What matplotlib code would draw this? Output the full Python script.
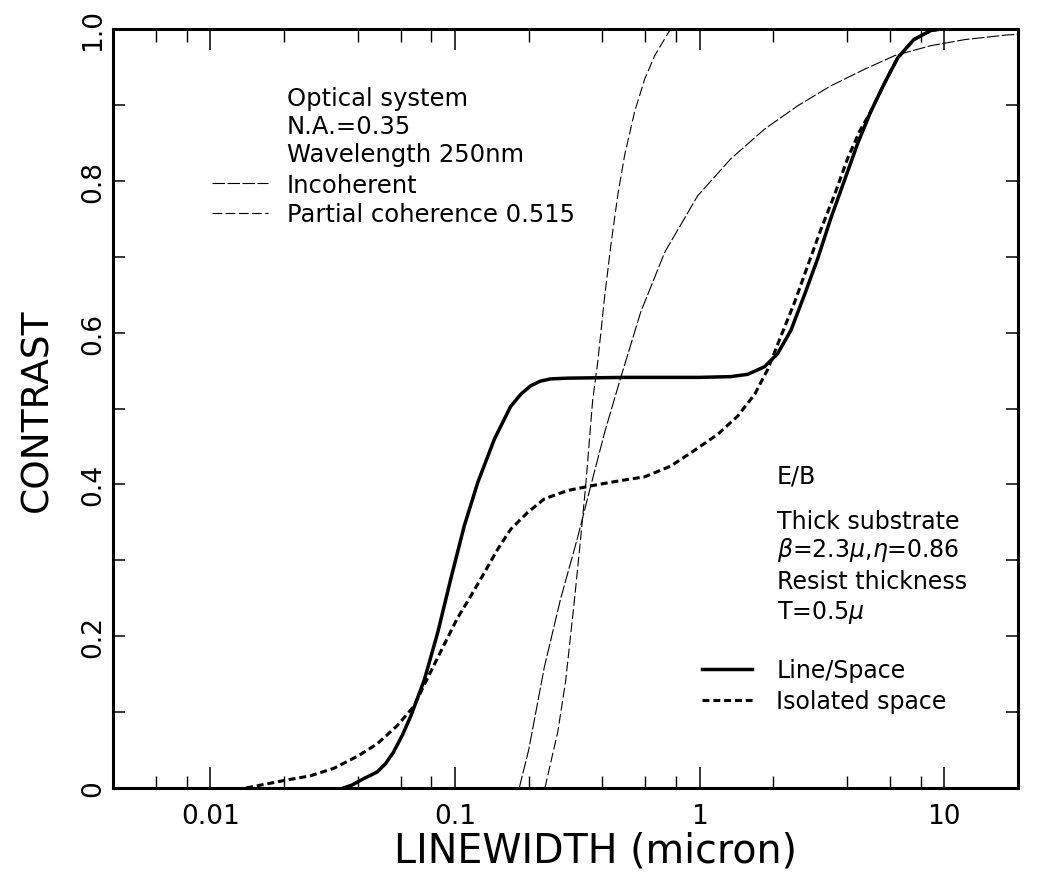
import matplotlib
matplotlib.use("Agg")
import matplotlib.pyplot as plt
from matplotlib.ticker import FixedLocator, NullFormatter, FixedFormatter

plt.rcParams['font.family'] = ['DejaVu Sans']
plt.rcParams['lines.scale_dashes'] = False
plt.rcParams['mathtext.fontset'] = 'dejavusans'

# ---------------- data ----------------
incoh_x = [0.183, 0.20, 0.232, 0.27, 0.317, 0.36, 0.41, 0.476, 0.574, 0.72,
           0.98, 1.34, 1.84, 2.52, 3.43, 4.72, 6.27, 8.8, 12.1, 17.8, 20.0]
incoh_y = [0.0, 0.05, 0.16, 0.249, 0.33, 0.40, 0.47, 0.541, 0.627, 0.706,
           0.78, 0.829, 0.868, 0.899, 0.925, 0.947, 0.965, 0.978, 0.986, 0.992, 0.993]

partial_x = [0.233, 0.263, 0.283, 0.308, 0.326, 0.343, 0.365, 0.383, 0.409, 0.433,
             0.462, 0.493, 0.542, 0.596, 0.655, 0.76]
partial_y = [0.0, 0.074, 0.14, 0.249, 0.328, 0.403, 0.51, 0.561, 0.648, 0.714,
             0.78, 0.833, 0.891, 0.934, 0.965, 1.0]

ls_x = [0.035, 0.038, 0.041, 0.044, 0.048, 0.052, 0.056, 0.061, 0.066, 0.075, 0.085,
        0.096, 0.109, 0.124, 0.145, 0.169, 0.186, 0.204, 0.223, 0.246, 0.289, 0.5,
        1.0, 1.34, 1.57, 1.84, 2.08, 2.36, 2.69, 3.04, 3.43, 3.92, 4.42, 5.0, 5.7,
        6.45, 7.5, 8.8, 9.7, 20.0]
ls_y = [0.0, 0.004, 0.01, 0.015, 0.021, 0.032, 0.047, 0.07, 0.095, 0.143, 0.205,
        0.275, 0.345, 0.403, 0.46, 0.503, 0.519, 0.53, 0.536, 0.539, 0.54, 0.541,
        0.541, 0.542, 0.545, 0.555, 0.572, 0.603, 0.651, 0.698, 0.75, 0.802, 0.849, 0.891, 0.929,
        0.962, 0.986, 0.998, 1.0, 1.0]

iso_x = [0.014, 0.0201, 0.0256, 0.032, 0.04, 0.048, 0.058, 0.068, 0.077, 0.09, 0.102,
         0.116, 0.132, 0.149, 0.169, 0.198, 0.232, 0.289, 0.372, 0.475, 0.596, 0.76,
         0.954, 1.185, 1.43, 1.68, 1.9, 2.14, 2.45, 2.77, 3.13, 3.57, 4.03, 4.5, 5.0,
         5.7, 6.45, 7.5, 8.8, 9.7, 20.0]
iso_y = [0.0, 0.01, 0.016, 0.026, 0.042, 0.058, 0.082, 0.108, 0.144, 0.188, 0.223,
         0.253, 0.284, 0.314, 0.341, 0.363, 0.381, 0.392, 0.399, 0.405, 0.41, 0.424,
         0.445, 0.466, 0.49, 0.519, 0.552, 0.594, 0.641, 0.689, 0.736, 0.783, 0.83, 0.865, 0.891,
         0.929, 0.962, 0.986, 0.998, 1.0, 1.0]

x_major = [0.01, 0.1, 1, 10]
x_major_labels = ["0.01", "0.1", "1", "10"]
x_minor = [0.006, 0.008, 0.02, 0.04, 0.06, 0.08, 0.2, 0.4, 0.6, 0.8, 2, 4, 6, 8]
y_major = [0, 0.2, 0.4, 0.6, 0.8, 1.0]
y_major_labels = ["0", "0.2", "0.4", "0.6", "0.8", "1.0"]
y_minor = [0.1, 0.3, 0.5, 0.7, 0.9]

# ---------------- figure ----------------
W, H = 1039, 887
fig = plt.figure(figsize=(W / 100, H / 100), dpi=100)
L, R, T, B = 113, 1018, 30, 789
ax = fig.add_axes([L / W, 1 - B / H, (R - L) / W, (B - T) / H])
ax.set_xscale('log')
ax.set_xlim(0.004, 20)
ax.set_ylim(0, 1)

l_inc, = ax.plot(incoh_x, incoh_y, color='black', lw=0.8, dashes=(9, 1.8),
                 label='Incoherent')
l_par, = ax.plot(partial_x, partial_y, color='black', lw=0.8, dashes=(7, 2.5),
                 label='Partial coherence 0.515')
l_ls, = ax.plot(ls_x, ls_y, color='black', lw=2.5, label='Line/Space',
                solid_joinstyle='round')
l_iso, = ax.plot(iso_x, iso_y, color='black', lw=2.2, dashes=(5, 2.8),
                 label='Isolated space')

for s in ax.spines.values():
    s.set_linewidth(2.2)

ax.xaxis.set_major_locator(FixedLocator(x_major))
ax.xaxis.set_major_formatter(FixedFormatter(x_major_labels))
ax.xaxis.set_minor_locator(FixedLocator(x_minor))
ax.xaxis.set_minor_formatter(NullFormatter())
ax.yaxis.set_major_locator(FixedLocator(y_major))
ax.yaxis.set_major_formatter(FixedFormatter(y_major_labels))
ax.yaxis.set_minor_locator(FixedLocator(y_minor))

ax.tick_params(axis='x', which='major', direction='in', length=15, width=1.1,
               top=True, bottom=True, labelsize=19, pad=11)
ax.tick_params(axis='x', which='minor', direction='in', length=9, width=1.0,
               top=True, bottom=True)
ax.tick_params(axis='y', which='both', direction='in', length=8.5, width=1.1,
               left=True, right=True)
ax.tick_params(axis='y', which='major', labelsize=19, pad=5, labelrotation=90)
for lab in ax.get_yticklabels():
    lab.set_verticalalignment('center')

fig.text(595 / W, 1 - 852 / H, 'LINEWIDTH (micron)', fontsize=28.5,
         ha='center', va='center')
fig.text(37 / W, 1 - 410 / H, 'CONTRAST', fontsize=27, rotation=90,
         ha='center', va='center')

fs = 17.5
# optical block
for txt, yc in [('Optical system', 99), ('N.A.=0.35', 127), ('Wavelength 250nm', 155)]:
    fig.text(287 / W, 1 - yc / H, txt, fontsize=fs, ha='left', va='center')
leg1 = ax.legend(handles=[l_inc, l_par], loc='upper left',
                 bbox_to_anchor=(212 / W, 1 - 174 / H), bbox_transform=fig.transFigure,
                 frameon=False, fontsize=fs, handlelength=2.3, handletextpad=0.78,
                 labelspacing=0.22, borderpad=0, borderaxespad=0)
ax.add_artist(leg1)

# E/B block
fs2 = 17
for txt, yc in [('E/B', 477), ('Thick substrate', 522),
                (r'$\beta$=2.3$\mu$,$\eta$=0.86', 550),
                ('Resist thickness', 582), (r'T=0.5$\mu$', 612)]:
    fig.text(777 / W, 1 - yc / H, txt, fontsize=fs2, ha='left', va='center')
leg2 = ax.legend(handles=[l_ls, l_iso], loc='upper left',
                 bbox_to_anchor=(702 / W, 1 - 659 / H), bbox_transform=fig.transFigure,
                 frameon=False, fontsize=fs2, handlelength=2.1, handletextpad=1.05,
                 labelspacing=0.3, borderpad=0, borderaxespad=0)

fig.savefig('out.png', dpi=100)
